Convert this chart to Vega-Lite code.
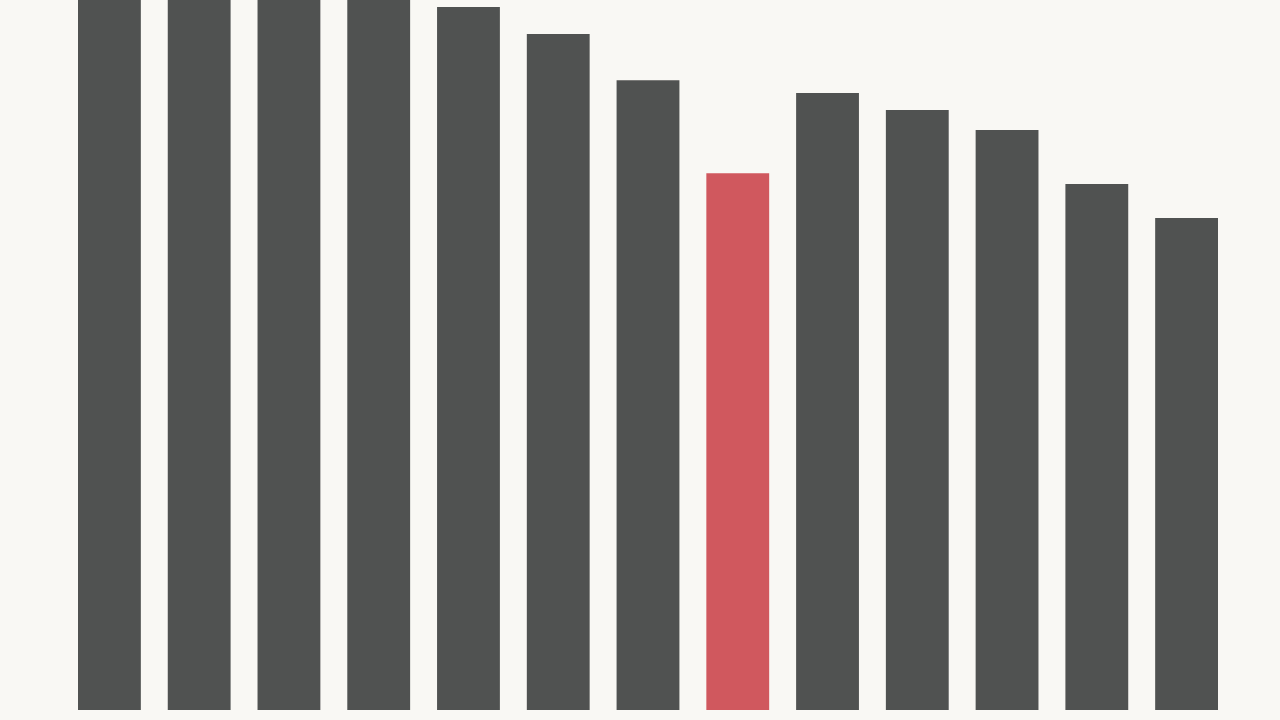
{
  "$schema": "https://vega.github.io/schema/vega-lite/v6.json",
  "width": 1140,
  "height": 710,
  "autosize": {"type": "none"},
  "padding": {"left": 78, "right": 62, "top": 0, "bottom": 10},
  "background": "#f9f8f4",
  "config": {"view": {"stroke": null}},
  "data": {
    "values": [
      {"item": "1", "value": 112, "highlight": false},
      {"item": "2", "value": 110, "highlight": false},
      {"item": "3", "value": 108, "highlight": false},
      {"item": "4", "value": 104, "highlight": false},
      {"item": "5", "value": 99.0, "highlight": false},
      {"item": "6", "value": 95.2, "highlight": false},
      {"item": "7", "value": 88.7, "highlight": false},
      {"item": "8", "value": 75.6, "highlight": true},
      {"item": "9", "value": 86.9, "highlight": false},
      {"item": "10", "value": 84.5, "highlight": false},
      {"item": "11", "value": 81.7, "highlight": false},
      {"item": "12", "value": 74.1, "highlight": false},
      {"item": "13", "value": 69.3, "highlight": false}
    ]
  },
  "mark": {"type": "bar", "clip": true},
  "encoding": {
    "x": {
      "field": "item",
      "type": "ordinal",
      "sort": null,
      "axis": null,
      "scale": {"paddingInner": 0.3, "paddingOuter": 0}
    },
    "y": {
      "field": "value",
      "type": "quantitative",
      "axis": null,
      "scale": {"domain": [0, 100], "nice": false, "zero": true}
    },
    "color": {
      "field": "highlight",
      "type": "nominal",
      "legend": null,
      "scale": {"domain": [false, true], "range": ["#505251", "#d0585e"]}
    }
  }
}
